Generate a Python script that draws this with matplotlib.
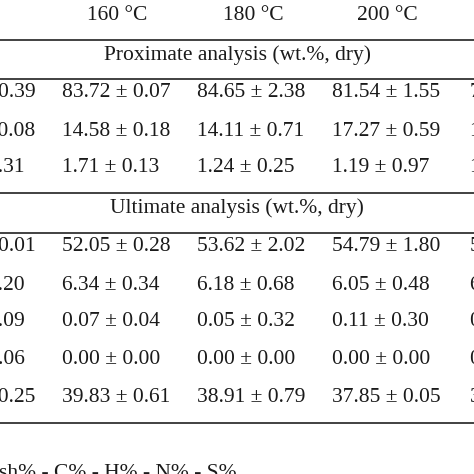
import matplotlib
matplotlib.use("Agg")
import matplotlib.pyplot as plt

headers = ["160 °C", "180 °C", "200 °C"]
section1 = "Proximate analysis (wt.%, dry)"
section2 = "Ultimate analysis (wt.%, dry)"
left_col1 = ["80.45 ± 0.39", "16.12 ± 0.08", "3.43 ± 0.31"]
c160_1 = ["83.72 ± 0.07", "14.58 ± 0.18", "1.71 ± 0.13"]
c180_1 = ["84.65 ± 2.38", "14.11 ± 0.71", "1.24 ± 0.25"]
c200_1 = ["81.54 ± 1.55", "17.27 ± 0.59", "1.19 ± 0.97"]
right_1 = ["78.90 ± 0.50", "19.10 ± 0.40", "1.90 ± 0.20"]
left_col2 = ["49.80 ± 0.01", "6.45 ± 0.20", "0.12 ± 0.09", "0.03 ± 0.06", "40.17 ± 0.25"]
c160_2 = ["52.05 ± 0.28", "6.34 ± 0.34", "0.07 ± 0.04", "0.00 ± 0.00", "39.83 ± 0.61"]
c180_2 = ["53.62 ± 2.02", "6.18 ± 0.68", "0.05 ± 0.32", "0.00 ± 0.00", "38.91 ± 0.79"]
c200_2 = ["54.79 ± 1.80", "6.05 ± 0.48", "0.11 ± 0.30", "0.00 ± 0.00", "37.85 ± 0.05"]
right_2 = ["56.10 ± 1.20", "6.00 ± 0.30", "0.09 ± 0.10", "0.00 ± 0.00", "36.20 ± 0.40"]
footnote = "O% = 100 - Ash% - C% - H% - N% - S%"

W = H = 474
fig = plt.figure(figsize=(4.74, 4.74), dpi=100)
fig.patch.set_facecolor("white")
plt.rcParams['font.family'] = ['Liberation Serif', 'DejaVu Serif']
fs = 15.5

def T(x, y, s, ha="left"):
    fig.text(x / W, 1 - y / H, s, ha=ha, va="center", fontsize=fs, color="#1a1a1a")

def L(y):
    fig.add_artist(plt.Line2D([0, 1], [1 - y / H, 1 - y / H], color="#333333", lw=1.3))

for x, h in zip([117, 253, 387], headers):
    T(x, 15, h, ha="center")
L(40)
T(237, 55, section1, ha="center")
L(79)
cols_x = [-73, 62, 197, 332, 470]
for y, row in zip([93, 131, 168], zip(left_col1, c160_1, c180_1, c200_1, right_1)):
    for x, s in zip(cols_x, row):
        T(x, y, s)
L(193)
T(237, 208, section2, ha="center")
L(233)
for y, row in zip([247, 285, 322, 360, 398], zip(left_col2, c160_2, c180_2, c200_2, right_2)):
    for x, s in zip(cols_x, row):
        T(x, y, s)
L(423)
T(-122, 474, footnote)

fig.savefig("out.png", dpi=100)
